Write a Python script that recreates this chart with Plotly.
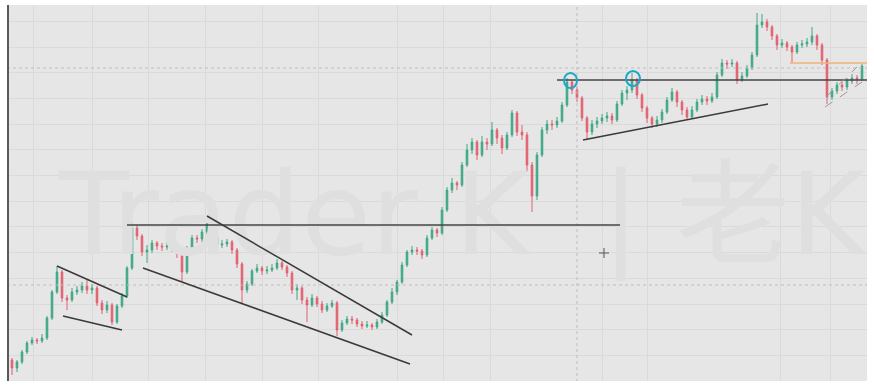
import plotly.graph_objects as go

# ---- candle data (price units; index = bar number) ----
opens = [40, 32, 38, 48, 57, 60, 59, 62, 82, 108,
         128, 102, 100, 108, 110, 114, 110, 112, 97, 90,
         95, 78, 94, 104, 132, 172, 164, 148, 150, 157,
         154, 153, 154, 151, 146, 128, 152, 162, 161, 168,
         176, 163, 155, 156, 158, 150, 136, 110, 116, 129,
         132, 129, 130, 132, 137, 133, 127, 110, 112, 100,
         95, 102, 96, 90, 94, 97, 70, 77, 81, 80,
         76, 74, 75, 73, 78, 85, 98, 108, 118, 135,
         148, 150, 149, 145, 162, 170, 167, 190, 210, 217,
         215, 235, 250, 258, 245, 258, 256, 270, 262, 252,
         265, 287, 268, 265, 235, 204, 245, 270, 276, 275,
         279, 295, 318, 310, 302, 282, 268, 276, 279, 282,
         284, 280, 296, 307, 310, 320, 305, 292, 282, 276,
         280, 288, 300, 308, 298, 290, 283, 290, 298, 301,
         299, 303, 325, 337, 336, 337, 320, 324, 332, 345,
         375, 378, 373, 364, 355, 357, 353, 348, 355, 356,
         358, 364, 355, 340, 303, 309, 315, 313, 319, 322,
         321]
highs = [42, 40, 50, 59, 63, 62, 66, 84, 110, 134,
         130, 105, 112, 114, 118, 120, 116, 114, 100, 99,
         97, 96, 107, 134, 178, 175, 166, 155, 160, 159,
         157, 158, 156, 153, 148, 154, 165, 165, 171, 183,
         178, 165, 160, 161, 160, 152, 138, 119, 131, 136,
         134, 134, 136, 141, 139, 135, 129, 116, 114, 103,
         106, 104, 99, 97, 100, 99, 80, 84, 84, 82,
         79, 79, 77, 81, 88, 100, 112, 120, 138, 150,
         154, 153, 151, 165, 173, 172, 193, 213, 222, 219,
         238, 256, 262, 260, 264, 262, 278, 272, 265, 268,
         290, 289, 275, 268, 238, 248, 273, 280, 280, 283,
         298, 322, 320, 313, 304, 284, 280, 283, 286, 288,
         287, 299, 310, 314, 327, 322, 307, 294, 284, 284,
         291, 303, 312, 310, 300, 293, 294, 301, 305, 304,
         307, 328, 341, 340, 341, 339, 328, 335, 348, 387,
         386, 381, 375, 366, 361, 359, 355, 358, 360, 362,
         373, 366, 357, 342, 312, 318, 318, 322, 326, 325,
         336]
lows = [25, 28, 36, 46, 55, 56, 57, 60, 80, 106,
        98, 90, 98, 105, 107, 106, 106, 94, 86, 87,
        75, 76, 92, 102, 130, 160, 144, 137, 147, 150,
        149, 150, 148, 142, 118, 126, 150, 157, 158, 166,
        160, 150, 152, 153, 146, 132, 97, 107, 114, 127,
        125, 126, 128, 130, 130, 123, 106, 100, 96, 78,
        93, 93, 87, 88, 92, 64, 68, 75, 76, 73,
        71, 72, 70, 71, 76, 83, 96, 105, 116, 133,
        145, 145, 141, 143, 160, 163, 165, 188, 207, 210,
        213, 233, 246, 240, 243, 250, 254, 256, 246, 250,
        263, 264, 260, 228, 188, 200, 243, 266, 270, 272,
        277, 293, 306, 298, 279, 260, 265, 272, 276, 278,
        276, 278, 294, 300, 307, 301, 288, 277, 272, 273,
        277, 286, 298, 293, 285, 280, 281, 288, 295, 295,
        297, 301, 323, 331, 333, 316, 318, 322, 330, 343,
        372, 369, 360, 350, 352, 349, 338, 346, 352, 353,
        355, 350, 335, 296, 300, 306, 309, 310, 316, 316,
        319]
closes = [32, 38, 48, 57, 60, 59, 62, 82, 108, 128,
          102, 100, 108, 110, 114, 110, 112, 97, 90, 95,
          78, 94, 104, 132, 172, 164, 148, 150, 157, 154,
          153, 154, 151, 146, 128, 152, 162, 161, 168, 176,
          163, 155, 156, 158, 150, 136, 110, 116, 129, 132,
          129, 130, 132, 137, 133, 127, 110, 112, 100, 95,
          102, 96, 90, 94, 97, 70, 77, 81, 80, 76,
          74, 75, 73, 78, 85, 98, 108, 118, 135, 148,
          150, 149, 145, 162, 170, 167, 190, 210, 217, 215,
          235, 250, 258, 245, 258, 256, 270, 262, 252, 265,
          287, 268, 265, 235, 204, 245, 270, 276, 275, 279,
          295, 318, 310, 302, 282, 268, 276, 279, 282, 284,
          280, 296, 307, 310, 320, 305, 292, 282, 276, 280,
          288, 300, 308, 298, 290, 283, 290, 298, 301, 299,
          303, 325, 337, 336, 337, 320, 324, 332, 345, 375,
          378, 373, 364, 355, 357, 353, 348, 355, 356, 358,
          364, 355, 340, 303, 309, 315, 313, 319, 322, 321,
          334]
bars = list(range(len(closes)))

# grid positions (bar index / price)
grid_x = [4.2, 16, 27.2, 38.6, 50, 61.2, 77, 86.2, 95.6, 118, 127, 153.6, 163.6]
grid_y = [379, 353, 328, 302, 276, 251, 225, 199, 174, 148, 122, 96, 71, 45]

NB = "\u00a0"
watermark = "Trader" + NB + "K" + NB + NB + "|" + NB + "老K"

GREEN = "#3ea886"
RED = "#e2606f"

fig = go.Figure()
fig.add_trace(go.Scatter(
    x=[9.4], y=[175], mode="text", text=[watermark],
    textposition="middle right",
    textfont=dict(family="DejaVu Sans, Noto Sans CJK SC", size=114, color="#dfdfdf"),
    hoverinfo="skip", cliponaxis=True, showlegend=False))
fig.add_trace(go.Candlestick(
    x=bars, open=opens, high=highs, low=lows, close=closes,
    increasing=dict(line=dict(color=GREEN, width=1), fillcolor=GREEN),
    decreasing=dict(line=dict(color=RED, width=1), fillcolor=RED),
    whiskerwidth=0, hoverinfo="skip", showlegend=False))

def seg(x0, y0, x1, y1, color="#3a3a3a", width=1.5, dash="solid"):
    return dict(type="line", xref="x", yref="y", x0=x0, y0=y0, x1=x1, y1=y1,
                line=dict(color=color, width=width, dash=dash), layer="above")

shapes = [
    # dotted price lines
    seg(-1, 332, 172, 332, "#bdbdbd", 1, "dot"),
    seg(-1, 115, 172, 115, "#bdbdbd", 1, "dot"),
    seg(113, 0, 113, 400, "#bdbdbd", 1, "dot"),
    # small flag
    seg(9.0, 134, 23.0, 103),
    seg(10.2, 84, 22.0, 70),
    # horizontal resistance
    seg(23.0, 175, 121.6, 175, "#444444", 1.5),
    # descending wedge
    seg(39.0, 184, 80.0, 65),
    seg(26.2, 132, 79.6, 36),
    # top horizontal
    seg(109.0, 320, 172, 320, "#444444", 1.5),
    # ascending support
    seg(114.2, 260, 151.2, 296),
    # orange line
    seg(155.6, 337, 172, 337, "#f0b27a", 1.5),
    # small dashed channel
    seg(162.8, 303, 169.0, 333, "#9a9a9a", 1, "dash"),
    seg(162.6, 293, 170.0, 318, "#9a9a9a", 1, "dash"),
    # crosshair
    seg(117.4, 147, 119.4, 147, "#555555", 1),
    seg(118.4, 152, 118.4, 142, "#555555", 1),
    # blue circles
    dict(type="circle", xref="x", yref="y", x0=110.4, x1=113.0, y0=312, y1=327,
         line=dict(color="#1aa7c8", width=2)),
    dict(type="circle", xref="x", yref="y", x0=122.8, x1=125.6, y0=314, y1=329,
         line=dict(color="#1aa7c8", width=2)),
]

fig.update_layout(
    width=874, height=386, autosize=False,
    margin=dict(l=9, r=7, t=5, b=5),
    paper_bgcolor="#ffffff", plot_bgcolor="#e6e6e6",
    showlegend=False, hovermode=False,
    boxgap=0.55,
    shapes=shapes,
    xaxis=dict(range=[-0.6, 171], tickvals=grid_x, showticklabels=False, ticks="",
               showgrid=True, gridcolor="#dadada", gridwidth=1, zeroline=False,
               showline=False, rangeslider=dict(visible=False), fixedrange=True),
    yaxis=dict(range=[19, 395], tickvals=grid_y, showticklabels=False, ticks="",
               showgrid=True, gridcolor="#dadada", gridwidth=1, zeroline=False,
               showline=True, linecolor="#5a5a5a", linewidth=2, fixedrange=True),
)

fig.write_html("out.html", config={"displayModeBar": False},
               post_script="document.body.style.margin='0';document.body.style.overflow='hidden';")
